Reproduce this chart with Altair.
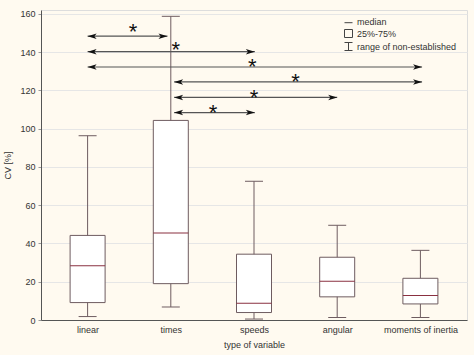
import altair as alt
import pandas as pd

categories = ["linear", "times", "speeds", "angular", "moments of inertia"]
whisker_min = [1.8, 6.8, 0.5, 1.3, 1.3]
q1 = [9.1, 19.0, 3.9, 12.1, 8.4]
median = [28.4, 45.5, 8.8, 20.2, 12.8]
q3 = [44.2, 104.3, 34.4, 32.8, 21.8]
whisker_max = [96.3, 158.7, 72.5, 49.5, 36.4]

# arrows (in category-index units along x)
arrow_y = [148.3, 140.2, 132.2, 124.4, 116.3, 108.4]
arrow_start = [0.0, 0.0, 0.0, 1.04, 1.04, 1.04]
arrow_end = [0.96, 2.01, 4.02, 4.02, 3.0, 2.01]
star_x = [0.545, 1.06, 1.98, 2.5, 2.0, 1.507]
star_y = [153.4, 144.0, 135.1, 127.3, 118.9, 111.1]

legend_items = ["median", "25%-75%", "range of non-established"]

box_df = pd.DataFrame({
    "idx": list(range(len(categories))),
    "cat": categories,
    "min": whisker_min, "q1": q1, "median": median, "q3": q3, "max": whisker_max,
})
arrow_df = pd.DataFrame({"y": arrow_y, "x0": arrow_start, "x1": arrow_end})
star_df = pd.DataFrame({"x": star_x, "y": star_y, "t": ["*"] * len(star_x)})
leg_df = pd.DataFrame({"item": legend_items, "idx": [2, 2, 2], "v": [150, 150, 150]})

label_expr = "[" + ",".join("'" + c + "'" for c in categories) + "][datum.value]"

xscale = alt.Scale(domain=[-0.5, 4.5], nice=False, zero=False)
yscale = alt.Scale(domain=[0, 162], nice=False)

xax = alt.Axis(values=list(range(len(categories))), labelExpr=label_expr, grid=False,
               title="type of variable", labelFontSize=9, titleFontSize=9,
               titleFontWeight="normal", labelColor="#333", titleColor="#333",
               tickSize=0, labelPadding=5, titlePadding=6, domainColor="#555")
yax = alt.Axis(values=list(range(0, 161, 20)), title="CV [%]", labelFontSize=9,
               titleFontSize=9, titleFontWeight="normal", labelColor="#333",
               titleColor="#333", tickSize=3, tickColor="#999", labelPadding=3,
               titlePadding=7, gridColor="#e6e6e6", domainColor="#555")

X = lambda f: alt.X(f, type="quantitative", scale=xscale, axis=xax)
Y = lambda f: alt.Y(f, type="quantitative", scale=yscale, axis=yax)

box_stroke = "#6e5c60"
med_color = "#8a3040"

whisk = alt.Chart(box_df).mark_rule(color=box_stroke, strokeWidth=1).encode(
    x=X("idx"), y=Y("min"), y2="max")
caps_top = alt.Chart(box_df).mark_tick(orient="horizontal", size=18, thickness=1,
                                       color=box_stroke, opacity=1).encode(x=X("idx"), y=Y("max"))
caps_bot = alt.Chart(box_df).mark_tick(orient="horizontal", size=18, thickness=1,
                                       color=box_stroke, opacity=1).encode(x=X("idx"), y=Y("min"))
boxes = alt.Chart(box_df).mark_bar(size=35, fill="white", stroke=box_stroke,
                                   strokeWidth=1).encode(x=X("idx"), y=Y("q1"), y2="q3")
meds = alt.Chart(box_df).mark_tick(orient="horizontal", size=35, thickness=1,
                                   color=med_color, opacity=1).encode(x=X("idx"), y=Y("median"))

lines = alt.Chart(arrow_df).mark_rule(color="#555", strokeWidth=1.2).encode(
    x=X("x0"), x2="x1", y=Y("y"))
right_head = "M0,0L-2,-0.6L-1.5,0L-2,0.6Z"
left_head = "M0,0L2,-0.6L1.5,0L2,0.6Z"
heads_r = alt.Chart(arrow_df).mark_point(shape=right_head, size=81, filled=True,
                                         color="#111", opacity=1).encode(x=X("x1"), y=Y("y"))
heads_l = alt.Chart(arrow_df).mark_point(shape=left_head, size=81, filled=True,
                                         color="#111", opacity=1).encode(x=X("x0"), y=Y("y"))
stars = alt.Chart(star_df).mark_text(fontSize=22, font="Liberation Sans", color="#111",
                                     baseline="middle", dy=6).encode(
    x=X("x"), y=Y("y"), text="t:N")

legend = alt.Chart(leg_df).mark_point(opacity=0).encode(
    x=X("idx"), y=Y("v"),
    shape=alt.Shape("item:N",
                    scale=alt.Scale(domain=legend_items,
                                    range=["M-1,0.3L1,0.3", "square",
                                           "M-1,-1L1,-1M0,-1L0,1M-1,1L1,1"]),
                    legend=alt.Legend(title=None, orient="none", legendX=303, legendY=7,
                                      padding=0, symbolSize=64, symbolStrokeWidth=1,
                                      symbolStrokeColor="#444", symbolFillColor="white",
                                      symbolOpacity=1, labelFontSize=9, labelColor="#333",
                                      labelOffset=4, rowPadding=0)))

chart = alt.layer(whisk, boxes, caps_top, caps_bot, meds, lines, heads_l, heads_r,
                  stars, legend).properties(
    width=426, height=310,
    autosize=alt.AutoSizeParams(type="none"),
    padding={"left": 41, "top": 10, "right": 7, "bottom": 35},
    background="#fffaf0",
).configure_view(fill="white", stroke="#777", strokeWidth=1).configure(
    font="Liberation Sans")

chart.save("out.html", embed_options={"renderer": "svg", "actions": False})
